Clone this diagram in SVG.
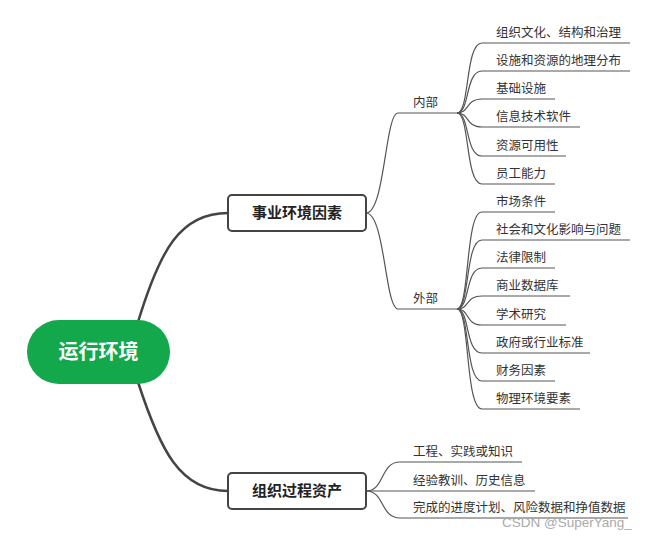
<svg xmlns="http://www.w3.org/2000/svg" width="661" height="539" viewBox="0 0 661 539">
<style>
text{font-family:"Noto Sans CJK SC","Liberation Sans",sans-serif;fill:#333}
.l{font-size:12.5px}
.m{font-size:15px;font-weight:bold;fill:#222}
.c{fill:none;stroke:#555;stroke-width:1.2}
.t{fill:none;stroke:#444;stroke-width:2.5}
</style>
<rect width="661" height="539" fill="#fff"/>
<g id="connectors">
<path class="t" d="M138,322 C160,250 180,213 228,213"/>
<path class="t" d="M138,382 C160,450 180,491 228,491"/>
<path class="c" d="M366,213 C385,213 385,113 398,113 H457"/>
<path class="c" d="M366,213 C385,213 385,309 398,309 H457"/>
<g id="int">
<path class="c" d="M457,113 C470,113 465,43 482,43 H630"/>
<path class="c" d="M457,113 C470,113 465,71 482,71 H630"/>
<path class="c" d="M457,113 C470,113 465,99 482,99 H555"/>
<path class="c" d="M457,113 C470,113 465,127 482,127 H580"/>
<path class="c" d="M457,113 C470,113 465,156 482,156 H566"/>
<path class="c" d="M457,113 C470,113 465,184 482,184 H555"/>
</g>
<g id="ext">
<path class="c" d="M457,309 C470,309 465,212 482,212 H555"/>
<path class="c" d="M457,309 C470,309 465,240 482,240 H630"/>
<path class="c" d="M457,309 C470,309 465,268 482,268 H555"/>
<path class="c" d="M457,309 C470,309 465,296 482,296 H570"/>
<path class="c" d="M457,309 C470,309 465,325 482,325 H566"/>
<path class="c" d="M457,309 C470,309 465,353 482,353 H590"/>
<path class="c" d="M457,309 C470,309 465,381 482,381 H555"/>
<path class="c" d="M457,309 C470,309 465,409 482,409 H580"/>
</g>
<path class="c" d="M366,491 C385,491 380,462 400,462 H522"/>
<path class="c" d="M366,491 H535"/>
<path class="c" d="M366,491 C385,491 380,518 400,518 H628"/>
</g>
<g id="root"><rect x="27" y="320" width="143" height="64" rx="32" fill="#12a84b"/><text x="98.5" y="359" text-anchor="middle" style="font-size:20px;font-weight:bold;fill:#fff">运行环境</text></g>
<g id="n1"><rect x="228" y="195" width="138" height="36" rx="4" fill="#fff" stroke="#444" stroke-width="2"/><text class="m" x="297" y="218" text-anchor="middle">事业环境因素</text></g>
<g id="n2"><rect x="228" y="473" width="138" height="36" rx="4" fill="#fff" stroke="#444" stroke-width="2"/><text class="m" x="297" y="496" text-anchor="middle">组织过程资产</text></g>
<g id="labels">
<text class="l" x="413" y="107">内部</text>
<text class="l" x="413" y="303">外部</text>
<text class="l" x="496" y="37">组织文化、结构和治理</text>
<text class="l" x="496" y="65">设施和资源的地理分布</text>
<text class="l" x="496" y="93">基础设施</text>
<text class="l" x="496" y="121">信息技术软件</text>
<text class="l" x="496" y="150">资源可用性</text>
<text class="l" x="496" y="178">员工能力</text>
<text class="l" x="496" y="206">市场条件</text>
<text class="l" x="496" y="234">社会和文化影响与问题</text>
<text class="l" x="496" y="262">法律限制</text>
<text class="l" x="496" y="290">商业数据库</text>
<text class="l" x="496" y="319">学术研究</text>
<text class="l" x="496" y="347">政府或行业标准</text>
<text class="l" x="496" y="375">财务因素</text>
<text class="l" x="496" y="403">物理环境要素</text>
<text class="l" x="413" y="456">工程、实践或知识</text>
<text class="l" x="413" y="485">经验教训、历史信息</text>
<text class="l" x="413" y="512">完成的进度计划、风险数据和挣值数据</text>
<text x="502" y="527" style="font-size:13.5px;fill:#aaa;font-family:'Liberation Sans',sans-serif">CSDN @SuperYang_</text>
</g>
</svg>
